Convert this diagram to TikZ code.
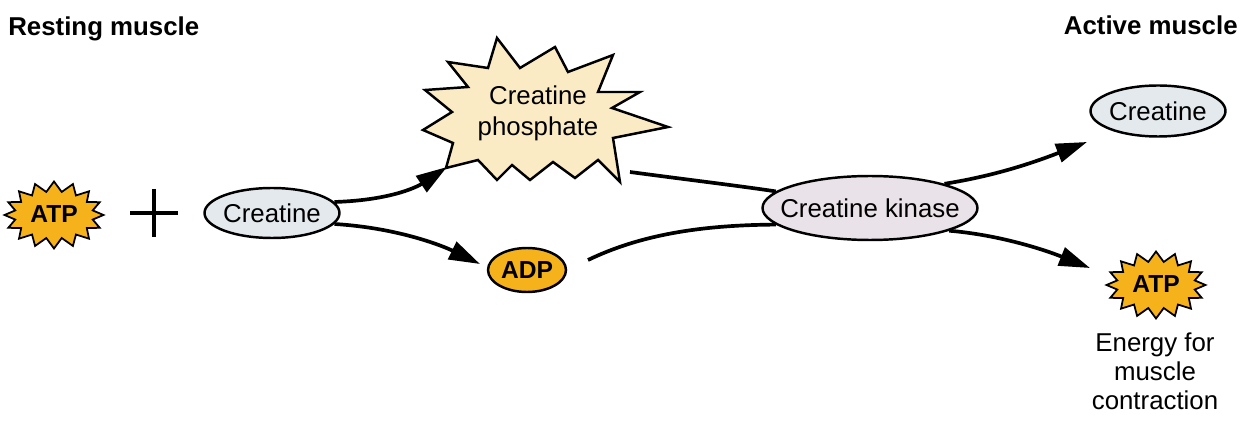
\documentclass[tikz,border=0pt]{standalone}
\usepackage{fontspec}
\setmainfont{Liberation Sans}
\usetikzlibrary{shapes.geometric,shapes.symbols,arrows.meta}
\definecolor{atporange}{HTML}{F6B21B}
\definecolor{crefill}{HTML}{E3E9ED}
\definecolor{kinfill}{HTML}{E9E2E8}
\definecolor{cpfill}{HTML}{FBEBC5}
\begin{document}
\begin{tikzpicture}[x=0.02cm,y=-0.02cm,
  txt/.style={font=\fontsize{14.7}{17.5}\selectfont, inner sep=0pt},
  btxt/.style={font=\fontsize{14.7}{17.5}\selectfont\bfseries, inner sep=0pt},
  atptxt/.style={font=\fontsize{14}{16}\selectfont\bfseries, inner sep=0pt},
  ell/.style={ellipse, draw=black, line width=1.4pt, inner sep=0pt},
  atpstar/.style={starburst, starburst points=16, starburst point height=0.2cm, random starburst=0, draw=black, line width=1pt, fill=atporange, minimum width=1.98cm, minimum height=1.34cm, inner sep=0pt},
  arr/.style={line width=2.1pt, -{Triangle[length=0.62cm,width=0.38cm]}},
  conn/.style={line width=2.1pt},
]
\useasboundingbox (0,0) rectangle (1250,425);

% titles
\node[btxt, anchor=base west] (rest) at (8,36) {Resting muscle};
\node[btxt, anchor=base east] (act) at (1238,35) {Active muscle};

% left ATP
\node[atpstar] (atpL) at (54,215) {};
\node[atptxt] (atpLt) at (54,214) {ATP};

% plus
\draw[line width=2.1pt] (130,213) -- (178,213) (154,189) -- (154,237);

% creatine (left)
\node[ell, fill=crefill, minimum width=2.7cm, minimum height=1.0cm] (creL) at (272,213) {};
\node[txt] (creLt) at (creL) {Creatine};

% creatine phosphate starburst
\draw[line width=1.4pt, fill=cpfill, line join=miter]
  (497,38) -- (488,68) -- (448,62) -- (468,87) -- (425,90) -- (452,112) --
  (423,130) -- (453,143) -- (446,168) -- (478,160) -- (497,180) -- (512,165) --
  (530,180) -- (553,162) -- (575,178) -- (598,160) -- (620,182) -- (613,138) --
  (668,127) -- (612,108) -- (640,92) -- (598,92) -- (613,55) -- (568,72) --
  (555,47) -- (520,68) -- cycle;
\node[txt, align=center, font=\fontsize{14.7}{17.8}\selectfont] (cp) at (538,113) {Creatine\\phosphate};
\coordinate (cpin) at (447,167);
\coordinate (cpout) at (630,172);

% ADP
\node[ell, fill=atporange, minimum width=1.56cm, minimum height=0.88cm] (adp) at (527,270) {};
\node[atptxt] (adpt) at (adp) {ADP};
\coordinate (adpin) at (480,264);
\coordinate (adpout) at (588,260);

% creatine kinase
\node[ell, fill=kinfill, minimum width=4.3cm, minimum height=1.28cm] (kin) at (870,208) {};
\node[txt] (kint) at (kin) {Creatine kinase};

% creatine (right)
\node[ell, fill=crefill, minimum width=2.7cm, minimum height=1.02cm] (creR) at (1158,111) {};
\node[txt] (creRt) at (creR) {Creatine};
\coordinate (crein) at (1087,142);

% right ATP
\node[atpstar] (atpR) at (1156,285) {};
\node[atptxt] (atpRt) at (1156,284) {ATP};
\coordinate (atpin) at (1090,268);

\node[txt, align=center, anchor=north, font=\fontsize{14.7}{16.5}\selectfont] (energy) at (1155,332) {Energy for\\muscle\\contraction};

% connectors
\draw[arr] (creL.10) .. controls (395,200) and (420,185) .. (cpin);
\draw[arr] (creL.-10) .. controls (400,228) and (445,247) .. (adpin);
\draw[conn] (cpout) .. controls (690,180) and (740,186) .. (kin.170);
\draw[conn] (adpout) .. controls (640,235) and (700,225) .. (kin.190);
\draw[arr] (kin.18) .. controls (1000,175) and (1040,160) .. (crein);
\draw[arr] (kin.-16) .. controls (1000,235) and (1045,250) .. (atpin);
\end{tikzpicture}
\end{document}
